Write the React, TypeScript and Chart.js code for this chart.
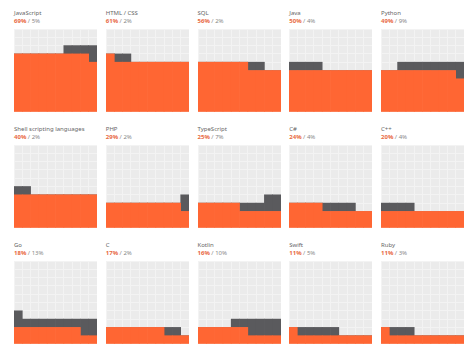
import React, { useEffect, useRef } from "react";
import { Chart, registerables } from "chart.js";

Chart.register(...registerables);

const languages = [
  "JavaScript", "HTML / CSS", "SQL", "Java", "Python",
  "Shell scripting languages", "PHP", "TypeScript", "C#", "C++",
  "Go", "C", "Kotlin", "Swift", "Ruby",
];
const usedPct = [69, 61, 56, 50, 49, 40, 29, 25, 24, 20, 18, 17, 16, 11, 11];
const extraPct = [5, 2, 2, 4, 9, 2, 2, 7, 4, 4, 13, 2, 10, 5, 3];
const cellColumns = ["1", "2", "3", "4", "5", "6", "7", "8", "9", "10"];

const ORANGE = "#ff6633";
const DARK = "#5a5a5d";
const LIGHT = "#ebebeb";
const GRID = "#f3f3f3";

function columnCounts(p: number, g: number) {
  const n = cellColumns.length;
  const orange = cellColumns.map((_, c) => Math.floor(p / n) + (c < p % n ? 1 : 0));
  const gray = cellColumns.map(() => 0);
  let c = p % n;
  let dir = 1;
  for (let i = 0; i < g; i++) {
    gray[c] += 1;
    c += dir;
    if (c < 0 || c >= n) {
      dir = -dir;
      c = dir > 0 ? 0 : n - 1;
    }
  }
  return { orange, gray };
}

function Waffle({ p, g }: { p: number; g: number }) {
  const ref = useRef<HTMLCanvasElement | null>(null);
  useEffect(() => {
    const { orange, gray } = columnCounts(p, g);
    const chart = new Chart(ref.current!, {
      type: "bar",
      data: {
        labels: cellColumns,
        datasets: [
          { data: orange, backgroundColor: ORANGE, borderWidth: 0, barPercentage: 1, categoryPercentage: 1 },
          { data: gray, backgroundColor: DARK, borderWidth: 0, barPercentage: 1, categoryPercentage: 1 },
        ],
      },
      options: {
        animation: false,
        responsive: false,
        maintainAspectRatio: false,
        events: [],
        layout: { padding: 0 },
        plugins: { legend: { display: false }, tooltip: { enabled: false } },
        scales: {
          x: {
            stacked: true,
            ticks: { display: false },
            grid: { drawTicks: false, color: GRID, lineWidth: 1, offset: true },
            border: { display: false },
          },
          y: {
            stacked: true,
            min: 0,
            max: 10,
            ticks: { display: false, stepSize: 1 },
            grid: { drawTicks: false, color: GRID, lineWidth: 1 },
            border: { display: false },
          },
        },
      },
    });
    return () => chart.destroy();
  }, [p, g]);
  return (
    <canvas
      ref={ref}
      width={83}
      height={83}
      style={{ width: 83, height: 83, display: "block", background: LIGHT }}
    />
  );
}

export default function App() {
  return (
    <div
      style={{
        position: "fixed",
        left: 0,
        top: 0,
        width: 474,
        height: 353,
        background: "#ffffff",
        fontFamily: "'Noto Sans', 'Open Sans', sans-serif",
      }}
    >
      {languages.map((name, i) => {
        const col = i % 5;
        const row = Math.floor(i / 5);
        const left = 14 + col * 91.75;
        const top = 29 + row * 116;
        return (
          <div key={name}>
            <div
              style={{
                position: "absolute",
                left,
                top: top - 20,
                fontSize: 6,
                lineHeight: "8px",
                color: "#666",
                whiteSpace: "nowrap",
              }}
            >
              {name}
            </div>
            <div
              style={{
                position: "absolute",
                left,
                top: top - 12,
                fontSize: 6,
                lineHeight: "8px",
                color: "#888",
                whiteSpace: "nowrap",
              }}
            >
              <span style={{ color: "#e8693f", fontWeight: 700 }}>{usedPct[i]}%</span>
              {" / " + extraPct[i] + "%"}
            </div>
            <div style={{ position: "absolute", left, top }}>
              <Waffle p={usedPct[i]} g={extraPct[i]} />
            </div>
          </div>
        );
      })}
    </div>
  );
}
